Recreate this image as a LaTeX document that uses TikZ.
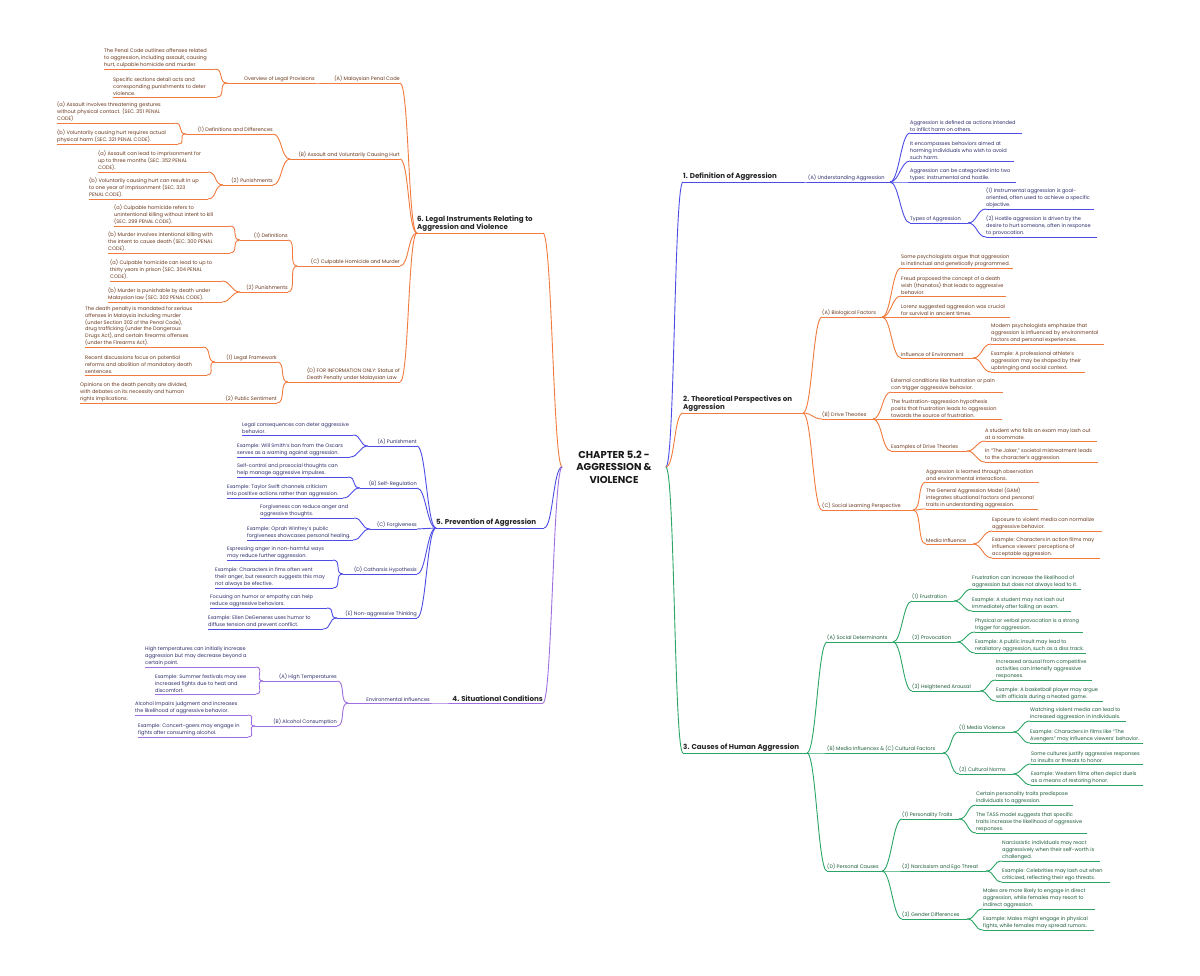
\documentclass[tikz,border=0pt]{standalone}
\usepackage{fontspec}
\setmainfont{Poppins}
\definecolor{lnB}{HTML}{4D4DE6}\definecolor{txB}{HTML}{2E2E6E}
\definecolor{lnO}{HTML}{F27A3C}\definecolor{txO}{HTML}{6B3A1E}
\definecolor{lnG}{HTML}{2BA566}\definecolor{txG}{HTML}{1F5E3D}
\definecolor{lnP}{HTML}{A070E0}\definecolor{txP}{HTML}{2E2E6E}
\tikzset{
 leaf/.style={inner xsep=0pt,inner ysep=1.3pt,align=left,font=\fontsize{5.05}{6.8}\selectfont},
 top/.style={font=\fontsize{7.1}{8.4}\selectfont\bfseries,text=black!85},
 tB/.style={text=txB},tO/.style={text=txO},tG/.style={text=txG},tP/.style={text=txP},
 lB/.style={draw=lnB,line width=0.9pt},lO/.style={draw=lnO,line width=0.9pt},
 lG/.style={draw=lnG,line width=0.9pt},lP/.style={draw=lnP,line width=0.9pt},
 hub/.style={font=\fontsize{10}{12.5}\selectfont\bfseries,align=center,inner xsep=14pt,text=black!90}
}
\newcommand\RN[7]{\node[leaf,t#2,#3,anchor=south west] (#1) at (#4,#5) {#7};
 \draw[l#2] (#1.south west) -- ++(#6,0) coordinate (#1e);}
\newcommand\LN[7]{\node[leaf,t#2,anchor=south east,align=right,#3] (#1) at (#4,#5) {#7};
 \draw[l#2] (#1.south east) -- ++(-#6,0) coordinate (#1w);}
\newcommand\cR[3]{\draw[l#1] (#2) .. controls +(9,0) and +(-9,0) .. (#3);}
\newcommand\cL[3]{\draw[l#1] (#2) .. controls +(-9,0) and +(9,0) .. (#3);}
\begin{document}
\begin{tikzpicture}[x=1pt,y=-1pt]
\fill[white] (0,0) rectangle (1200,976);
\useasboundingbox (0,0) rectangle (1200,976);
\node[hub] (C) at (614,467) {CHAPTER 5.2 -\\AGGRESSION \&\\VIOLENCE};
% ---------- Branch 1
\RN{b1}{B}{top}{683}{182}{120}{1. Definition of Aggression}
\RN{b1A}{B}{}{808}{182}{82}{(A) Understanding Aggression}
\RN{b1A1}{B}{}{910}{133}{112}{Aggression is defined as actions intended\\to inflict harm on others.}
\RN{b1A2}{B}{}{910}{161}{104}{It encompasses behaviors aimed at\\harming individuals who wish to avoid\\such harm.}
\RN{b1A3}{B}{}{910}{182}{106}{Aggression can be categorized into two\\types: instrumental and hostile.}
\RN{b1A4}{B}{}{910}{223}{58}{Types of Aggression}
\RN{b1A41}{B}{}{986}{209}{108}{(1) Instrumental aggression is goal-\\oriented, often used to achieve a specific\\objective.}
\RN{b1A42}{B}{}{986}{237}{111}{(2) Hostile aggression is driven by the\\desire to hurt someone, often in response\\to provocation.}
\cR{B}{C.east}{b1.south west}\cR{B}{b1e}{b1A.south west}
\cR{B}{b1Ae}{b1A1.south west}\cR{B}{b1Ae}{b1A2.south west}\cR{B}{b1Ae}{b1A3.south west}\cR{B}{b1Ae}{b1A4.south west}
\cR{B}{b1A4e}{b1A41.south west}\cR{B}{b1A4e}{b1A42.south west}
% ---------- Branch 2
\RN{b2}{O}{top}{683}{413}{120}{2. Theoretical Perspectives on\\Aggression}
\RN{b2A}{O}{}{822}{317}{60}{(A) Biological Factors}
\RN{b2A1}{O}{}{901}{268}{112}{Some psychologists argue that aggression\\is instinctual and genetically programmed.}
\RN{b2A2}{O}{}{901}{296}{105}{Freud proposed the concept of a death\\wish (thanatos) that leads to aggressive\\behavior.}
\RN{b2A3}{O}{}{901}{317}{109}{Lorenz suggested aggression was crucial\\for survival in ancient times.}
\RN{b2A4}{O}{}{901}{358}{72}{Influence of Environment}
\RN{b2A41}{O}{}{991}{344}{113}{Modern psychologists emphasize that\\aggression is influenced by environmental\\factors and personal experiences.}
\RN{b2A42}{O}{}{991}{372}{94}{Example: A professional athlete's\\aggression may be shaped by their\\upbringing and social context.}
\RN{b2B}{O}{}{822}{419}{51}{(B) Drive Theories}
\RN{b2B1}{O}{}{891}{392}{112}{External conditions like frustration or pain\\can trigger aggressive behavior.}
\RN{b2B2}{O}{}{891}{419}{111}{The frustration-aggression hypothesis\\posits that frustration leads to aggression\\towards the source of frustration.}
\RN{b2B3}{O}{}{891}{451}{76}{Examples of Drive Theories}
\RN{b2B31}{O}{}{985}{441}{112}{A student who fails an exam may lash out\\at a roommate.}
\RN{b2B32}{O}{}{985}{462}{113}{In ``The Joker,'' societal mistreatment leads\\to the character's aggression.}
\RN{b2C}{O}{}{822}{510}{91}{(C) Social Learning Perspective}
\RN{b2C1}{O}{}{926}{482}{113}{Aggression is learned through observation\\and environmental interactions.}
\RN{b2C2}{O}{}{926}{509}{112}{The General Aggression Model (GAM)\\integrates situational factors and personal\\traits in understanding aggression.}
\RN{b2C3}{O}{}{926}{544}{47}{Media Influence}
\RN{b2C31}{O}{}{992}{531}{110}{Exposure to violent media can normalize\\aggressive behavior.}
\RN{b2C32}{O}{}{992}{558}{108}{Example: Characters in action films may\\influence viewers' perceptions of\\acceptable aggression.}
\cR{O}{C.east}{b2.south west}
\cR{O}{b2e}{b2A.south west}\cR{O}{b2e}{b2B.south west}\cR{O}{b2e}{b2C.south west}
\cR{O}{b2Ae}{b2A1.south west}\cR{O}{b2Ae}{b2A2.south west}\cR{O}{b2Ae}{b2A3.south west}\cR{O}{b2Ae}{b2A4.south west}
\cR{O}{b2A4e}{b2A41.south west}\cR{O}{b2A4e}{b2A42.south west}
\cR{O}{b2Be}{b2B1.south west}\cR{O}{b2Be}{b2B2.south west}\cR{O}{b2Be}{b2B3.south west}
\cR{O}{b2B3e}{b2B31.south west}\cR{O}{b2B3e}{b2B32.south west}
\cR{O}{b2Ce}{b2C1.south west}\cR{O}{b2Ce}{b2C2.south west}\cR{O}{b2Ce}{b2C3.south west}
\cR{O}{b2C3e}{b2C31.south west}\cR{O}{b2C3e}{b2C32.south west}
% ---------- Branch 3
\RN{b3}{G}{top}{683}{753}{124}{3. Causes of Human Aggression}
\RN{b3A}{G}{}{827}{642}{66}{(A) Social Determinants}
\RN{b3A1}{G}{}{912}{601}{42}{(1) Frustration}
\RN{b3A11}{G}{}{972}{589}{109}{Frustration can increase the likelihood of\\aggression but does not always lead to it.}
\RN{b3A12}{G}{}{972}{611}{99}{Example: A student may not lash out\\immediately after failing an exam.}
\RN{b3A2}{G}{}{912}{642}{45}{(2) Provocation}
\RN{b3A21}{G}{}{975}{632}{108}{Physical or verbal provocation is a strong\\trigger for aggression.}
\RN{b3A22}{G}{}{975}{653}{111}{Example: A public insult may lead to\\retaliatory aggression, such as a diss track.}
\RN{b3A3}{G}{}{912}{691}{68}{(3) Heightened Arousal}
\RN{b3A31}{G}{}{996}{680}{96}{Increased arousal from competitive\\activities can intensify aggressive\\responses.}
\RN{b3A32}{G}{}{996}{701}{107}{Example: A basketball player may argue\\with officials during a heated game.}
\RN{b3B}{G}{}{827}{753}{116}{(B) Media Influences \& (C) Cultural Factors}
\RN{b3B1}{G}{}{959}{732}{54}{(1) Media Violence}
\RN{b3B11}{G}{}{1030}{721}{96}{Watching violent media can lead to\\increased aggression in individuals.}
\RN{b3B12}{G}{}{1030}{743}{113}{Example: Characters in films like ``The\\Avengers'' may influence viewers' behavior.}
\RN{b3B2}{G}{}{959}{774}{54}{(2) Cultural Norms}
\RN{b3B21}{G}{}{1031}{764}{112}{Some cultures justify aggressive responses\\to insults or threats to honor.}
\RN{b3B22}{G}{}{1031}{785}{112}{Example: Western films often depict duels\\as a means of restoring honor.}
\RN{b3C}{G}{}{827}{871}{55}{(D) Personal Causes}
\RN{b3C1}{G}{}{902}{819}{57}{(1) Personality Traits}
\RN{b3C11}{G}{}{976}{805}{97}{Certain personality traits predispose\\individuals to aggression.}
\RN{b3C12}{G}{}{976}{833}{111}{The TASS model suggests that specific\\traits increase the likelihood of aggressive\\responses.}
\RN{b3C2}{G}{}{902}{871}{84}{(2) Narcissism and Ego Threat}
\RN{b3C21}{G}{}{1002}{861}{98}{Narcissistic individuals may react\\aggressively when their self-worth is\\challenged.}
\RN{b3C22}{G}{}{1002}{882}{108}{Example: Celebrities may lash out when\\criticized, reflecting their ego threats.}
\RN{b3C3}{G}{}{902}{919}{65}{(3) Gender Differences}
\RN{b3C31}{G}{}{983}{909}{112}{Males are more likely to engage in direct\\aggression, while females may resort to\\indirect aggression.}
\RN{b3C32}{G}{}{983}{930}{111}{Example: Males might engage in physical\\fights, while females may spread rumors.}
\cR{G}{C.east}{b3.south west}
\cR{G}{b3e}{b3A.south west}\cR{G}{b3e}{b3B.south west}\cR{G}{b3e}{b3C.south west}
\cR{G}{b3Ae}{b3A1.south west}\cR{G}{b3Ae}{b3A2.south west}\cR{G}{b3Ae}{b3A3.south west}
\cR{G}{b3A1e}{b3A11.south west}\cR{G}{b3A1e}{b3A12.south west}
\cR{G}{b3A2e}{b3A21.south west}\cR{G}{b3A2e}{b3A22.south west}
\cR{G}{b3A3e}{b3A31.south west}\cR{G}{b3A3e}{b3A32.south west}
\cR{G}{b3Be}{b3B1.south west}\cR{G}{b3Be}{b3B2.south west}
\cR{G}{b3B1e}{b3B11.south west}\cR{G}{b3B1e}{b3B12.south west}
\cR{G}{b3B2e}{b3B21.south west}\cR{G}{b3B2e}{b3B22.south west}
\cR{G}{b3Ce}{b3C1.south west}\cR{G}{b3Ce}{b3C2.south west}\cR{G}{b3Ce}{b3C3.south west}
\cR{G}{b3C1e}{b3C11.south west}\cR{G}{b3C1e}{b3C12.south west}
\cR{G}{b3C2e}{b3C21.south west}\cR{G}{b3C2e}{b3C22.south west}
\cR{G}{b3C3e}{b3C31.south west}\cR{G}{b3C3e}{b3C32.south west}
% ---------- Branch 6
\RN{b6}{O}{top}{417}{233}{126}{6. Legal Instruments Relating to\\Aggression and Violence}
\LN{b6A}{O}{}{400}{83}{80}{(A) Malaysian Penal Code}
\LN{b6A1}{O}{}{315}{83}{88}{Overview of Legal Provisions}
\RN{b6A11}{O}{}{104}{69}{111}{The Penal Code outlines offenses related\\to aggression, including assault, causing\\hurt, culpable homicide and murder.}
\RN{b6A12}{O}{}{113}{97}{104}{Specific sections detail acts and\\corresponding punishments to deter\\violence.}
\LN{b6B}{O}{}{400}{159}{110}{(B) Assault and Voluntarily Causing Hurt}
\LN{b6B1}{O}{}{273}{134}{87}{(1) Definitions and Differences}
\RN{b6B11}{O}{}{57}{123}{118}{(a) Assault involves threatening gestures\\without physical contact. (SEC. 351 PENAL\\CODE)}
\RN{b6B12}{O}{}{57}{144}{121}{(b) Voluntarily causing hurt requires actual\\physical harm (SEC. 321 PENAL CODE).}
\LN{b6B2}{O}{}{273}{185}{50}{(2) Punishments}
\RN{b6B21}{O}{}{98}{172}{110}{(a) Assault can lead to imprisonment for\\up to three months (SEC. 352 PENAL\\CODE).}
\RN{b6B22}{O}{}{89}{199}{119}{(b) Voluntarily causing hurt can result in up\\to one year of imprisonment (SEC. 323\\PENAL CODE).}
\LN{b6C}{O}{}{400}{266}{103}{(C) Culpable Homicide and Murder}
\LN{b6C1}{O}{}{288}{240}{48}{(1) Definitions}
\RN{b6C11}{O}{}{114}{226}{116}{(a) Culpable homicide refers to\\unintentional killing without intent to kill\\(SEC. 299 PENAL CODE).}
\RN{b6C12}{O}{}{108}{253}{122}{(b) Murder involves intentional killing with\\the intent to cause death (SEC. 300 PENAL\\CODE).}
\LN{b6C2}{O}{}{288}{292}{48}{(2) Punishments}
\RN{b6C21}{O}{}{110}{281}{112}{(a) Culpable homicide can lead to up to\\thirty years in prison (SEC. 304 PENAL\\CODE).}
\RN{b6C22}{O}{}{108}{302}{114}{(b) Murder is punishable by death under\\Malaysian law (SEC. 302 PENAL CODE).}
\LN{b6D}{O}{align=left}{400}{382}{112}{(D) FOR INFORMATION ONLY: Status of\\Death Penalty under Malaysian Law}
\LN{b6D1}{O}{}{277}{362}{62}{(1) Legal Framework}
\RN{b6D11}{O}{}{85}{347}{118}{The death penalty is mandated for serious\\offenses in Malaysia including murder\\(under Section 302 of the Penal Code),\\drug trafficking (under the Dangerous\\Drugs Act), and certain firearms offenses\\(under the Firearms Act).}
\RN{b6D12}{O}{}{85}{375}{122}{Recent discussions focus on potential\\reforms and abolition of mandatory death\\sentences.}
\LN{b6D2}{O}{}{277}{403}{72}{(2) Public Sentiment}
\RN{b6D21}{O}{}{80}{403}{125}{Opinions on the death penalty are divided,\\with debates on its necessity and human\\rights implications.}
\cL{O}{C.west}{b6e}
\cL{O}{b6.south west}{b6A.south east}\cL{O}{b6.south west}{b6B.south east}\cL{O}{b6.south west}{b6C.south east}\cL{O}{b6.south west}{b6D.south east}
\cL{O}{b6Aw}{b6A1.south east}
\cL{O}{b6A1w}{b6A11e}\cL{O}{b6A1w}{b6A12e}
\cL{O}{b6Bw}{b6B1.south east}\cL{O}{b6Bw}{b6B2.south east}
\cL{O}{b6B1w}{b6B11e}\cL{O}{b6B1w}{b6B12e}
\cL{O}{b6B2w}{b6B21e}\cL{O}{b6B2w}{b6B22e}
\cL{O}{b6Cw}{b6C1.south east}\cL{O}{b6Cw}{b6C2.south east}
\cL{O}{b6C1w}{b6C11e}\cL{O}{b6C1w}{b6C12e}
\cL{O}{b6C2w}{b6C21e}\cL{O}{b6C2w}{b6C22e}
\cL{O}{b6Dw}{b6D1.south east}\cL{O}{b6Dw}{b6D2.south east}
\cL{O}{b6D1w}{b6D11e}\cL{O}{b6D1w}{b6D12e}
\cL{O}{b6D2w}{b6D21e}
% ---------- Branch 5
\RN{b5}{B}{top}{436}{528}{108}{5. Prevention of Aggression}
\LN{b5A}{B}{}{417}{446}{49}{(A) Punishment}
\RN{b5A1}{B}{}{242}{435}{111}{Legal consequences can deter aggressive\\behavior.}
\RN{b5A2}{B}{}{237}{457}{113}{Example: Will Smith's ban from the Oscars\\serves as a warning against aggression.}
\LN{b5B}{B}{}{417}{488}{57}{(B) Self-Regulation}
\RN{b5B1}{B}{}{237}{477}{111}{Self-control and prosocial thoughts can\\help manage aggressive impulses.}
\RN{b5B2}{B}{}{227}{498}{116}{Example: Taylor Swift channels criticism\\into positive actions rather than aggression.}
\LN{b5C}{B}{}{417}{529}{47}{(C) Forgiveness}
\RN{b5C1}{B}{}{260}{518}{94}{Forgiveness can reduce anger and\\aggressive thoughts.}
\RN{b5C2}{B}{}{247}{540}{106}{Example: Oprah Winfrey's public\\forgiveness showcases personal healing.}
\LN{b5D}{B}{}{417}{574}{74}{(D) Catharsis Hypothesis}
\RN{b5D1}{B}{}{227}{560}{106}{Expressing anger in non-harmful ways\\may reduce further aggression.}
\RN{b5D2}{B}{}{215}{588}{118}{Example: Characters in fims often vent\\their anger, but research suggests this may\\not always be efective.}
\LN{b5E}{B}{}{417}{618}{80}{(E) Non-aggressive Thinking}
\RN{b5E1}{B}{}{210}{608}{117}{Focusing on humor or empathy can help\\reduce aggressive behaviors.}
\RN{b5E2}{B}{}{208}{629}{115}{Example: Ellen DeGeneres uses humor to\\diffuse tension and prevent conflict.}
\cL{B}{C.west}{b5e}
\cL{B}{b5.south west}{b5A.south east}\cL{B}{b5.south west}{b5B.south east}\cL{B}{b5.south west}{b5C.south east}\cL{B}{b5.south west}{b5D.south east}\cL{B}{b5.south west}{b5E.south east}
\cL{B}{b5Aw}{b5A1e}\cL{B}{b5Aw}{b5A2e}
\cL{B}{b5Bw}{b5B1e}\cL{B}{b5Bw}{b5B2e}
\cL{B}{b5Cw}{b5C1e}\cL{B}{b5Cw}{b5C2e}
\cL{B}{b5Dw}{b5D1e}\cL{B}{b5Dw}{b5D2e}
\cL{B}{b5Ew}{b5E1e}\cL{B}{b5Ew}{b5E2e}
% ---------- Branch 4
\LN{b4}{P}{top}{543}{703}{93}{4. Situational Conditions}
\LN{b4A}{P}{}{430}{703}{82}{Environmental Influences}
\LN{b4A1}{P}{}{337}{681}{74}{(A) High Temperatures}
\RN{b4A11}{P}{}{145}{667}{111}{High temperatures can initially increase\\aggression but may decrease beyond a\\certain point.}
\RN{b4A12}{P}{}{155}{694}{101}{Example: Summer festivals may see\\increased fights due to heat and\\discomfort.}
\LN{b4A2}{P}{}{337}{726}{82}{(B) Alcohol Consumption}
\RN{b4A21}{P}{}{135}{715}{113}{Alcohol impairs judgment and increases\\the likelihood of aggressive behavior.}
\RN{b4A22}{P}{}{138}{737}{110}{Example: Concert-goers may engage in\\fights after consuming alcohol.}
\cL{P}{C.west}{b4.south east}
\cL{P}{b4w}{b4A.south east}
\cL{P}{b4Aw}{b4A1.south east}\cL{P}{b4Aw}{b4A2.south east}
\cL{P}{b4A1w}{b4A11e}\cL{P}{b4A1w}{b4A12e}
\cL{P}{b4A2w}{b4A21e}\cL{P}{b4A2w}{b4A22e}
\end{tikzpicture}
\end{document}
